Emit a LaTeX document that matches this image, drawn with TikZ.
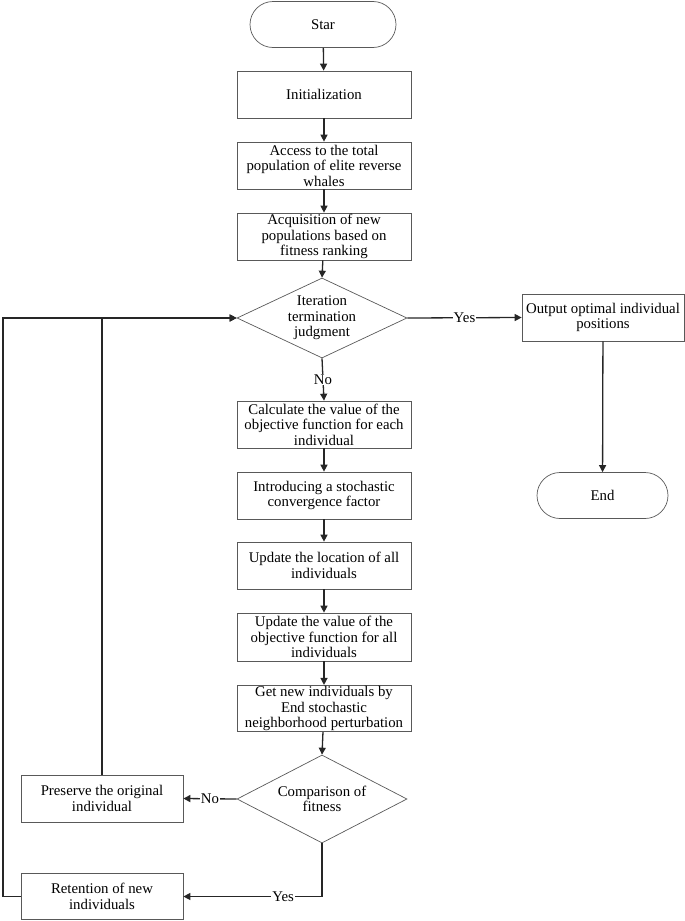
\documentclass[tikz,border=0pt]{standalone}
\usepackage{fontspec}
\setmainfont{Liberation Serif}
\usetikzlibrary{shapes.geometric,arrows.meta}
\newcommand\fsz{\fontsize{14.8}{15.5}\selectfont}
\begin{document}
\begin{tikzpicture}[x=1pt,y=-1pt,
  box/.style={draw=black!65, line width=0.7pt, minimum width=174pt, minimum height=47pt, align=center, inner sep=1pt, font=\fsz},
  term/.style={draw=black!65, line width=0.7pt, rounded corners=23pt, minimum width=146pt, minimum height=46pt, align=center, font=\fsz},
  dec/.style={draw=black!65, line width=0.7pt, shape=diamond, inner sep=0pt, minimum width=170pt},
  conn/.style={draw=black!85, line width=1.3pt, -{Triangle[length=7pt,width=7pt]}},
  lab/.style={fill=white, inner sep=1pt, font=\fsz}]
\useasboundingbox (0,0) rectangle (685,921);
\node[term] (star) at (323,24.5) {Star};
\node[box] (init) at (324,94.5) {Initialization};
\node[box] (acc) at (324,165.5) {Access to the total\\population of elite reverse\\whales};
\node[box] (acq) at (324,236.5) {Acquisition of new\\populations based on\\fitness ranking};
\node[dec, minimum height=80pt, label={[align=center,font=\fsz]center:Iteration\\termination\\judgment}] (d1) at (322,318) {};
\node[box, minimum width=162pt] (out) at (603,317.5) {Output optimal individual\\positions};
\node[term, minimum width=131pt] (end) at (602.5,495.5) {End};
\node[box] (calc) at (324,424.5) {Calculate the value of the\\objective function for each\\individual};
\node[box] (intro) at (324,495.5) {Introducing a stochastic\\convergence factor};
\node[box] (uloc) at (324,565.5) {Update the location of all\\individuals};
\node[box, minimum height=48pt] (uval) at (324,637) {Update the value of the\\objective function for all\\individuals};
\node[box, minimum height=45pt] (getn) at (324,708.5) {Get new individuals by\\End stochastic\\neighborhood perturbation};
\node[dec, minimum height=88pt, label={[align=center,font=\fsz]center:Comparison of\\fitness}] (d2) at (322,799) {};
\node[box, minimum width=162pt] (pres) at (102,798.5) {Preserve the original\\individual};
\node[box, minimum width=162pt, minimum height=46pt] (ret) at (102,896.5) {Retention of new\\individuals};
\coordinate (lp) at (3,896.5);

\draw[conn] (star) -- (init);
\draw[conn] (init) -- (acc);
\draw[conn] (acc) -- (acq);
\draw[conn] (acq) -- (d1.north);
\draw[conn] (d1.east) -- node[lab] {Yes} (out.west);
\draw[conn] (out) -- (end);
\draw[conn] (d1.south) -- node[lab] {No} (calc.north);
\draw[conn] (calc) -- (intro);
\draw[conn] (intro) -- (uloc);
\draw[conn] (uloc) -- (uval);
\draw[conn] (uval) -- (getn);
\draw[conn] (getn) -- (d2.north);
\draw[conn] (d2.west) -- node[lab] {No} (pres.east);
\draw[conn] (d2.south) |- node[lab, pos=0.64] {Yes} (ret.east);
\draw[conn] (pres.north) |- (d1.west);
\draw[conn] (ret.west) -- (lp) |- (d1.west);
\end{tikzpicture}
\end{document}
